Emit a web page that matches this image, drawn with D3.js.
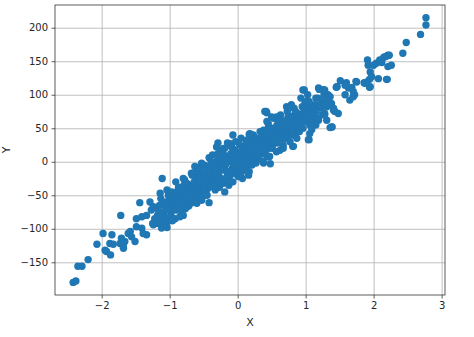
<!DOCTYPE html>
<html>
<head>
<meta charset="utf-8">
<script src="https://cdn.jsdelivr.net/npm/d3@7"></script>
<style>
  body { margin: 0; background: #fff; }
  text { font-family: "DejaVu Sans", sans-serif; fill: #262626; }
</style>
</head>
<body>
<div id="chart"></div>
<script>
// points, x and y kept side by side
const xValues = [
  -2.42, -2.38, -2.35, -2.29, -2.20, -2.07, -1.98, -1.95, -1.93, -1.85, -1.87, -1.88, -1.83,
  -1.72, -1.73, -1.68, -1.71, -1.66, -1.68, -1.61, -1.56, -1.51, -1.58, -1.49, -1.41, -1.34, -1.39,
  -1.24, -1.17, -1.09, -1.04, -1.12, -1.04, -1.49, -1.41, -1.34, -1.24, -1.17, -1.09, -1.19, -1.07,
  -1.44, -1.29, -1.11, -1.14, -1.04, -0.95, -1.00, -0.90, -0.91, -0.78, -0.75, -0.68, -0.65, -0.55,
  -0.60, -0.53, -0.48, -0.42, -0.42, -0.46, -0.36, -0.33, -0.26, -0.31, -0.29, -0.31, -0.21, -0.19,
  -0.07, -0.11, -0.04, 0.03, -0.06, -0.11, 0.01, 0.06, 0.16, 0.17, 0.13, 0.23, 0.30, 0.28, 0.23,
  0.38, 0.43, 0.48, 0.43, 0.38, 0.45, 0.52, 0.60, 0.67, 0.57, 0.67, 0.62, 0.72, 0.82, 0.77, 0.82,
  0.89, 0.92, 1.01, 0.96, 1.04, 1.15, 1.39, 1.06, 1.19, 1.24,
  -0.98, -0.95, -0.93, -0.97, -0.92, -0.99, -0.88, -0.86, -0.84, -0.82, -0.87, -0.81, -0.85,
  -0.78, -0.76, -0.74, -0.72, -0.79, -0.71, -0.77, -0.68, -0.66, -0.64, -0.62, -0.69, -0.61, -0.67, -0.63,
  -0.58, -0.56, -0.54, -0.52, -0.59, -0.51, -0.57, -0.53, -0.48, -0.46, -0.44, -0.42, -0.49, -0.41, -0.47, -0.43,
  -0.38, -0.36, -0.34, -0.32, -0.39, -0.31, -0.37, -0.33, -0.35, -0.28, -0.26, -0.24, -0.22, -0.29, -0.21, -0.27, -0.23, -0.25,
  -0.18, -0.16, -0.14, -0.12, -0.19, -0.11, -0.17, -0.13, -0.15, -0.08, -0.06, -0.04, -0.02, -0.09, -0.01, -0.07, -0.03, -0.05,
  0.02, 0.04, 0.06, 0.08, 0.01, 0.09, 0.03, 0.07, 0.05, 0.12, 0.14, 0.16, 0.18, 0.11, 0.19, 0.13, 0.17, 0.15,
  0.22, 0.24, 0.26, 0.28, 0.21, 0.29, 0.23, 0.27, 0.25, 0.32, 0.34, 0.36, 0.38, 0.31, 0.39, 0.33, 0.37, 0.35,
  0.42, 0.44, 0.46, 0.48, 0.41, 0.49, 0.43, 0.47, 0.45, 0.52, 0.54, 0.56, 0.58, 0.51, 0.59, 0.53, 0.57,
  0.62, 0.64, 0.66, 0.68, 0.61, 0.69, 0.63, 0.67, 0.72, 0.74, 0.76, 0.78, 0.71, 0.79, 0.73, 0.77,
  0.82, 0.84, 0.86, 0.88, 0.81, 0.89, 0.83, 0.87, 0.92, 0.94, 0.96, 0.98, 0.91, 0.99, 0.93,
  1.02, 1.04, 1.06, 1.08, 1.03, 1.09, 1.12, 1.14, 1.16, 1.18, 1.11, 1.22, 1.25, 1.27,
  -1.08, -1.05, -1.02, -1.07, -1.03, -1.18, -1.15, -1.13, -1.17, -1.27, -1.22, -1.25,
  -0.80, -0.68, -0.63, -0.53, -0.53, -0.60, -0.75, -0.80, -0.95, -1.04, -1.14,
  0.40, 0.57, 0.72, 0.79, 0.96, 1.19, 1.26, 1.33, 1.46, 1.38, 1.28, 1.21, 1.31, 1.41,
  0.42, 0.79, 0.98, 1.20, 1.28, 1.45, 1.51, 1.60, 1.68, 1.75, 1.72, 1.86, 1.94, 1.91, 1.92, 1.95,
  2.00, 2.04, 2.12, 2.09, 2.15, 2.21, 2.07, 2.20, 2.21, 2.26, 1.94, 1.95, 2.43, 2.48, 2.69, 2.77, 2.77,
  1.90, 1.97, 1.87, 1.74, 2.19, 2.18, 2.23, 1.58, 1.63, 1.70, 1.46, 1.26, 1.33, 1.38, 1.41, 1.43, 1.48,
  1.58, 1.65, 1.70, 1.28, 1.31, 1.01, 1.06, 0.50, 0.62, 0.74, 1.06, 1.09, 1.36, 1.36, 1.05, 0.81, 0.18,
  -1.00, -1.00, -0.96, -0.96, -0.90, -0.90, -0.85, -0.85, -0.80, -0.80, -0.75, -0.75, -0.70, -0.70,
  -0.65, -0.65, -0.60, -0.60, -0.55, -0.55, -0.50, -0.50, -0.45, -0.45, -0.40, -0.40, -0.35, -0.35,
  -0.30, -0.30, -0.25, -0.25, -0.20, -0.20, -0.15, -0.15, -0.10, -0.10, -0.05, -0.05, 0.00, 0.00,
  0.05, 0.05, 0.10, 0.10, 0.15, 0.15, 0.20, 0.20, 0.25, 0.25, 0.30, 0.30, 0.35, 0.35, 0.40, 0.40,
  0.45, 0.45, 0.50, 0.50, 0.55, 0.55, 0.60, 0.60, 0.65, 0.65, 0.70, 0.70, 0.75, 0.75, 0.80, 0.80,
  0.85, 0.85, 0.90, 0.90, 0.95, 0.95, 1.00, 1.00, 1.05, 1.05, 1.10, 1.10, 1.15, 1.15
];
const yValues = [
  -180, -178, -156, -156, -146, -123, -107, -132, -134, -109, -139, -122, -123,
  -80, -122, -127, -114, -119, -129, -107, -112, -119, -104, -97, -99, -109, -107,
  -94, -92, -90, -90, -99, -98, -85, -82, -80, -67, -72, -65, -87, -90,
  -61, -60, -25, -47, -42, -52, -62, -72, -30, -27, -42, -35, -17, -20,
  -52, -57, -50, -61, 6, -12, -7, -20, -2, -30, 28, 22, 20, -45,
  40, 27, 17, 7, -2, -15, -22, -12, -20, 41, 27, 22, 32, 12, 3,
  -2, 7, -3, 73, 47, 57, 50, 62, 55, 32, 25, 17, 37, 23, 47, 57,
  67, 52, 60, 72, 33, 55, 52, 42, 62, 70,
  -80, -68, -58, -45, -85, -63, -55, -65, -48, -75, -38, -60, -82,
  -50, -58, -40, -66, -35, -47, -70, -45, -55, -30, -40, -62, -25, -20, -48,
  -35, -44, -27, -38, -15, -48, -8, -18, -30, -22, -40, -12, -5, -33, -45, -25,
  -20, -28, -10, -35, 0, -15, 10, -42, -4, -18, -8, -25, 5, 12, -32, -38, -12, 15,
  -5, -15, 8, -22, 20, 0, -28, -35, 28, -10, 5, -18, 12, 22, -5, -30, 30, -2,
  -8, 10, -15, 20, 0, 3, 25, -25, 35, 5, 15, -5, 25, -12, 8, 32, -15, 20,
  12, 25, 5, 35, -5, 18, 40, -2, 30, 20, 32, 12, 40, 5, 25, 45, 0, 28,
  30, 42, 20, 48, 15, 35, 60, 8, 38, 38, 45, 28, 55, 20, 40, 65, 15,
  42, 52, 35, 60, 28, 45, 70, 20, 50, 58, 42, 65, 35, 52, 75, 30,
  55, 62, 45, 72, 40, 58, 80, 35, 62, 70, 50, 78, 45, 88, 95,
  68, 78, 55, 85, 100, 48, 75, 85, 65, 95, 58, 80, 90, 100,
  -75, -60, -50, -82, -70, -80, -65, -55, -90, -72, -85, -92,
  -25, -17, -7, -2, -57, -62, -67, -80, -72, -87, -82,
  75, 67, 82, 85, 107, 110, 107, 100, 112, 52, 72, 85, 82, 77,
  75, 82, 107, 108, 107, 111, 121, 118, 111, 119, 100, 118, 111, 152, 144, 134,
  144, 147, 148, 152, 156, 159, 124, 123, 142, 144, 123, 112, 162, 178, 190, 204, 215,
  119, 127, 117, 120, 123, 157, 159, 114, 110, 105, 112, 107, 92, 87, 80, 75, 72,
  100, 92, 97, 70, 62, 90, 80, 67, 62, 67, 62, 55, 97, 51, 33, 23, 42,
  -72, -55, -64, -88, -62, -45, -70, -52, -58, -42, -50, -32, -55, -38,
  -40, -60, -45, -30, -52, -22, -38, -15, -30, -50, -25, -5, -38, -18,
  -22, 2, -30, -2, -12, 10, -20, 2, -15, 12, -12, 18, 8, -15,
  15, -8, 12, -2, 28, 2, 18, 32, 12, 22, 28, 8, 35, 18, 22, 40,
  28, 50, 42, 30, 50, 35, 48, 58, 42, 62, 55, 40, 62, 48, 50, 68,
  58, 75, 68, 52, 60, 82, 75, 62, 70, 90, 80, 68, 75, 95
];
const xTicks = [-2, -1, 0, 1, 2, 3];
const yTicks = [-150, -100, -50, 0, 50, 100, 150, 200];

const width = 474;
const height = 337;
const margin = { left: 55, right: 29, top: 5, bottom: 42 };

const points = xValues.map((x, i) => ({ x: x, y: yValues[i] }));

const xScale = d3.scaleLinear()
  .domain([-2.687, 3.05])
  .range([margin.left, width - margin.right]);

const yScale = d3.scaleLinear()
  .domain([-198.8, 233.9])
  .range([height - margin.bottom, margin.top]);

const svg = d3.select('#chart')
  .append('svg')
  .attr('width', width)
  .attr('height', height);

// grid lines
svg.append('g')
  .attr('class', 'grid')
  .attr('transform', 'translate(0,' + (height - margin.bottom) + ')')
  .call(d3.axisBottom(xScale).tickValues(xTicks).tickSize(-(height - margin.top - margin.bottom)).tickFormat(''))
  .call(g => g.select('.domain').remove())
  .call(g => g.selectAll('line').attr('stroke', '#b0b0b0').attr('stroke-width', 0.8));

svg.append('g')
  .attr('class', 'grid')
  .attr('transform', 'translate(' + margin.left + ',0)')
  .call(d3.axisLeft(yScale).tickValues(yTicks).tickSize(-(width - margin.left - margin.right)).tickFormat(''))
  .call(g => g.select('.domain').remove())
  .call(g => g.selectAll('line').attr('stroke', '#b0b0b0').attr('stroke-width', 0.8));

// scatter points
svg.append('g')
  .selectAll('circle')
  .data(points)
  .enter()
  .append('circle')
  .attr('cx', d => xScale(d.x))
  .attr('cy', d => yScale(d.y))
  .attr('r', 3.7)
  .attr('fill', '#1f77b4');

// axes
const xAxis = svg.append('g')
  .attr('transform', 'translate(0,' + (height - margin.bottom) + ')')
  .call(d3.axisBottom(xScale).tickValues(xTicks).tickFormat(d3.format('d')).tickSize(3.5).tickPadding(3.5));

const yAxis = svg.append('g')
  .attr('transform', 'translate(' + margin.left + ',0)')
  .call(d3.axisLeft(yScale).tickValues(yTicks).tickFormat(d3.format('d')).tickSize(3.5).tickPadding(3.5));

[xAxis, yAxis].forEach(ax => {
  ax.select('.domain').remove();
  ax.selectAll('line').attr('stroke', '#333').attr('stroke-width', 0.8);
  ax.selectAll('text').attr('font-size', 10).attr('font-family', '"DejaVu Sans", sans-serif').attr('fill', '#262626');
});

// frame
svg.append('rect')
  .attr('x', margin.left)
  .attr('y', margin.top)
  .attr('width', width - margin.left - margin.right)
  .attr('height', height - margin.top - margin.bottom)
  .attr('fill', 'none')
  .attr('stroke', '#333')
  .attr('stroke-width', 0.8);

// axis labels
svg.append('text')
  .attr('x', (margin.left + width - margin.right) / 2)
  .attr('y', 326)
  .attr('text-anchor', 'middle')
  .attr('font-size', 11)
  .text('X');

svg.append('text')
  .attr('transform', 'translate(10,150) rotate(-90)')
  .attr('text-anchor', 'middle')
  .attr('font-size', 11)
  .text('Y');
</script>
</body>
</html>
